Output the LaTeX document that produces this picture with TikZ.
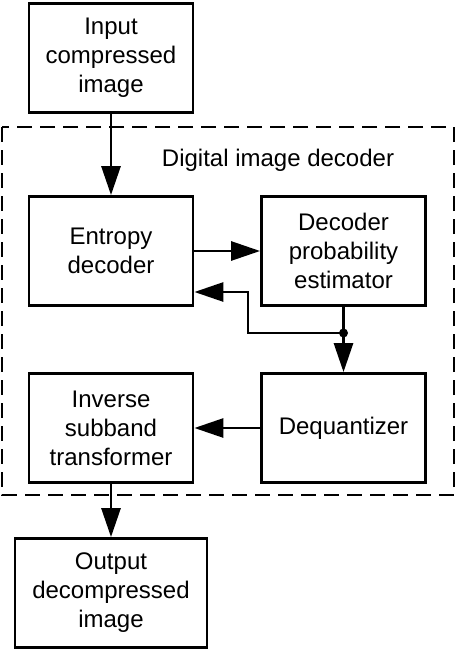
\documentclass[tikz,border=0pt]{standalone}
\usepackage{fontspec}
\setmainfont{Liberation Sans}
\usetikzlibrary{arrows.meta}
\begin{document}
\begin{tikzpicture}[x=1pt, y=-1pt, line width=2.8pt]
    \tikzset{block/.style={draw, align=center, inner sep=0pt, minimum width=164pt, minimum height=109pt, font=\fontsize{24}{29}\selectfont}};
    \tikzset{arr/.style={-{Triangle[length=29pt, width=19pt]}}};

    \useasboundingbox (0, 0) rectangle (456, 650);

    % Outer frame
    \draw[dashed, dash pattern=on 15pt off 8pt] (2, 127) rectangle (454, 495);
    \node[font=\fontsize{24}{29}\selectfont] (title) at (278, 160) {Digital image decoder};

    % Input and output
    \node[block] (in) at (111, 58) {Input\\compressed\\image};
    \node[block, minimum width=192pt] (out) at (111, 593) {Output\\decompressed\\image};

    % Upper row
    \node[block] (ent) at (111, 251) {Entropy\\decoder};
    \node[block] (prob) at (343.5, 251) {Decoder\\probability\\estimator};

    % Lower row
    \node[block] (inv) at (111, 428) {Inverse\\subband\\transformer};
    \node[block] (deq) at (343.5, 428) {Dequantizer};

    % Branch points
    \path (343.5, 333) coordinate (dot);
    \path (248, 292) coordinate (bend);
    \fill (dot) circle (4.5pt);

    % Edges
    \draw[arr] (in) -- (ent);
    \draw[arr] (ent) -- (prob);
    \draw (prob) -- (dot);
    \draw[arr] (dot) -- (deq);
    \draw[arr] (dot) -| (bend) -- (ent.east |- bend);
    \draw[arr] (deq) -- (inv);
    \draw[arr] (inv) -- (out);
  \end{tikzpicture}
\end{document}
